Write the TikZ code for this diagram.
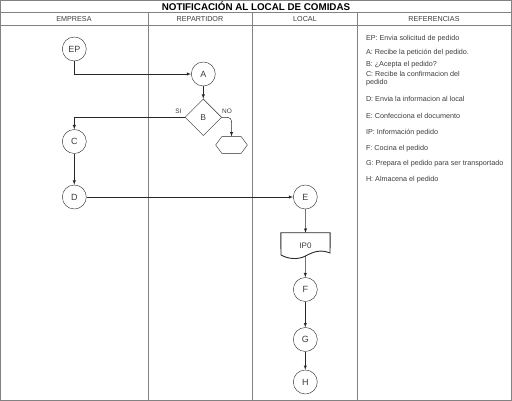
\documentclass[tikz,border=0pt]{standalone}
\usepackage{fontspec}
\setmainfont{Liberation Sans}
\usetikzlibrary{arrows,shapes.geometric,shapes.symbols}
\tikzset{>=latex}
\definecolor{frameColour}{RGB}{130,130,130}
\definecolor{lineColour}{RGB}{40,40,40}
\definecolor{textColour}{RGB}{60,60,60}
\tikzset{
	stepnode/.style={draw=lineColour, circle, minimum size=24, inner sep=0, font=\fontsize{9}{10}\selectfont, text=textColour},
	askbox/.style={draw=lineColour, diamond, minimum width=36.6, minimum height=36.6, inner sep=0, font=\fontsize{8.5}{9}\selectfont, text=textColour},
	endbox/.style={draw=lineColour, signal, signal to=east and west, signal pointer angle=108, minimum width=31.6, minimum height=16.7, inner sep=0},
	header/.style={font=\fontsize{7.2}{8}\selectfont, text=textColour},
	refline/.style={anchor=west, font=\fontsize{7.2}{8.2}\selectfont, text=textColour, align=left},
	flow/.style={->, draw=lineColour, line width=0.5}
}
\begin{document}
\begin{tikzpicture}[x=1pt, y=-1pt]
		\useasboundingbox (0, 0) rectangle (512, 401);

		% the main frame
		\draw[frameColour, line width=0.9] (0.5, 0.5) rectangle (511, 400.5);
		\draw[frameColour, line width=0.9] (0.5, 12.5) -- (511, 12.5);
		\draw[frameColour, line width=0.9] (0.5, 25) -- (511, 25);
		\foreach \xcol in {148, 252.5, 357.5}
			\draw[frameColour, line width=0.9] (\xcol, 12.5) -- (\xcol, 400.5);

		% title and lane headers
		\node (title) at (256, 6.6) {\fontsize{9.8}{10}\selectfont\bfseries NOTIFICACIÓN AL LOCAL DE COMIDAS};
		\node[header] (hEmpresa) at (74, 18.8) {EMPRESA};
		\node[header] (hRepartidor) at (200, 18.8) {REPARTIDOR};
		\node[header] (hLocal) at (305, 18.8) {LOCAL};
		\node[header] (hReferencias) at (434, 18.8) {REFERENCIAS};

		% the flow nodes
		\node[stepnode] (EP) at (74.3, 49) {EP};
		\node[stepnode] (A) at (203.3, 74) {A};
		\node[askbox] (B) at (203.3, 117.3) {B};
		\node[endbox] (hex) at (231.5, 145) {};
		\node[stepnode] (C) at (74.3, 141.5) {C};
		\node[stepnode] (D) at (74.3, 197) {D};
		\node[stepnode] (E) at (305.3, 197) {E};
		\node[stepnode] (F) at (305.3, 289.5) {F};
		\node[stepnode] (G) at (305.3, 339.5) {G};
		\node[stepnode] (H) at (305.3, 382) {H};

		% the document shape
		\node[minimum width=49, minimum height=26, inner sep=0, font=\fontsize{8}{9}\selectfont, text=textColour] (IP) at (305.5, 246) {IP0};
		\coordinate (IPfoot) at (305.5, 256);
		\draw[lineColour, line width=0.9] (281, 255) -- (IP.north west) -- (IP.north east) -- (330, 253)
			.. controls (320, 249) and (313, 252) .. (IPfoot)
			.. controls (298, 260) and (288, 259) .. (281, 255);

		% the connectors
		\draw[flow] (EP.south) |- (A.west);
		\draw[flow] (A.south) -- (B.north);
		\draw[flow] (B.west) -| (C.north);
		\draw[flow, rounded corners=4] (B.east) -| (hex.north);
		\draw[flow] (C.south) -- (D.north);
		\draw[flow] (D.east) -- (E.west);
		\draw[flow] (E.south) -- (IP.north);
		\draw[flow] (IPfoot) -- (F.north);
		\draw[flow] (F.south) -- (G.north);
		\draw[flow] (G.south) -- (H.north);

		% branch labels
		\node[font=\fontsize{6.5}{7}\selectfont, text=textColour] (si) at (178.5, 111) {SI};
		\node[font=\fontsize{6.5}{7}\selectfont, text=textColour] (no) at (227, 111) {NO};

		% the references
		\node[refline] (rEP) at (362.5, 38.3) {EP: Envia solicitud de pedido};
		\node[refline] (rA) at (362.5, 53) {A: Recibe la petición del pedido.};
		\node[refline] (rB) at (362.5, 65) {B: ¿Acepta el pedido?};
		\node[refline] (rC) at (362.5, 78.7) {C: Recibe la confirmacion del\\pedido};
		\node[refline] (rD) at (362.5, 99) {D: Envia la informacion al local};
		\node[refline] (rE) at (362.5, 115.7) {E: Confecciona el documento};
		\node[refline] (rIP) at (362.5, 132.3) {IP: Información pedido};
		\node[refline] (rF) at (362.5, 148.3) {F: Cocina el pedido};
		\node[refline] (rG) at (362.5, 164) {G: Prepara el pedido para ser transportado};
		\node[refline] (rH) at (362.5, 180) {H: Almacena el pedido};
	\end{tikzpicture}
\end{document}
